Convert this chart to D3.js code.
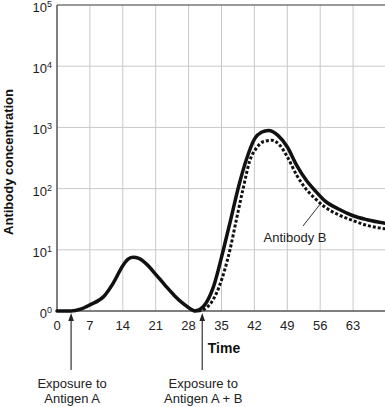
<!DOCTYPE html>
<html>
<head>
<meta charset="utf-8">
<script src="https://cdn.jsdelivr.net/npm/d3@7"></script>
<style>
  body { margin: 0; background: #fff; }
  svg { display: block; font-family: "Liberation Sans", Arial, sans-serif; }
</style>
</head>
<body>
<script>
const width = 385;
const height = 407;
const leftPadding = 57;
const topPadding = 5;
const plotBottom = 311;

// solid curve (antibody A) - time, concentration
const timeA = [0, 3, 5, 7, 10, 12, 14, 15.2, 16.2, 17.4, 19, 21, 23, 25, 27, 28.5, 29.4, 31.1, 33.3, 35.4, 37, 38.6, 40.4, 42.1, 43.5, 45, 47, 49, 51, 53, 55, 57, 60, 63, 66, 70];
const concA = [1, 1, 1.07, 1.26, 1.74, 2.88, 5.5, 7.08, 7.59, 7.24, 5.89, 3.98, 2.63, 1.78, 1.29, 1.07, 1.0, 1.17, 2.5, 10, 32, 105, 316, 661, 832, 891, 741, 479, 240, 138, 91, 63, 46, 36, 31, 27];

// dashed curve (antibody B)
const timeB = [29, 30, 32.2, 34.5, 36.8, 38.2, 39.6, 41, 42.5, 44, 45.7, 47.5, 49, 51, 53, 55, 57, 60, 63, 66, 70];
const concB = [1.03, 1.0, 1.2, 2.5, 10, 32, 100, 282, 468, 589, 617, 501, 331, 166, 98, 68, 50, 37, 30, 25, 22];

const xTicks = [0, 7, 14, 21, 28, 35, 42, 49, 56, 63];
const yTicks = [1, 10, 100, 1000, 10000, 100000];
const yTickBase = ["0", "10", "10", "10", "10", "10"];
const yTickExp = ["0", "1", "2", "3", "4", "5"];

const exposureTimes = [3, 30.9];
const exposureLabels = [["Exposure to", "Antigen A"], ["Exposure to", "Antigen A + B"]];

const xScale = d3.scaleLinear().domain([0, 70]).range([leftPadding, leftPadding + 70 * 4.7]);
const yScale = d3.scaleLog().domain([1, 100000]).range([plotBottom, topPadding]);

const svg = d3.select("body").append("svg")
    .attr("width", width).attr("height", height);

// grid
svg.append("g").selectAll("line").data(xTicks.slice(1).concat([70])).enter().append("line")
    .attr("x1", d => xScale(d)).attr("x2", d => xScale(d))
    .attr("y1", topPadding).attr("y2", plotBottom)
    .attr("stroke", "#c9c9c9").attr("stroke-width", 1);
svg.append("g").selectAll("line").data(yTicks.slice(1, 5)).enter().append("line")
    .attr("x1", leftPadding).attr("x2", width)
    .attr("y1", d => yScale(d)).attr("y2", d => yScale(d))
    .attr("stroke", "#c9c9c9").attr("stroke-width", 1);

// border
svg.append("line").attr("x1", leftPadding).attr("x2", width)
    .attr("y1", topPadding).attr("y2", topPadding)
    .attr("stroke", "#777").attr("stroke-width", 1.5);
svg.append("line").attr("x1", leftPadding).attr("x2", leftPadding)
    .attr("y1", topPadding).attr("y2", plotBottom)
    .attr("stroke", "#555").attr("stroke-width", 1.5);
svg.append("line").attr("x1", leftPadding).attr("x2", width)
    .attr("y1", plotBottom).attr("y2", plotBottom)
    .attr("stroke", "#555").attr("stroke-width", 1.5);

// x tick labels
svg.append("g").selectAll("text").data(xTicks).enter().append("text")
    .attr("x", d => xScale(d)).attr("y", 330)
    .attr("text-anchor", "middle").attr("font-size", 13).attr("fill", "#222")
    .text(d => d);

// y tick labels with superscript
const yLab = svg.append("g").selectAll("text").data(yTicks).enter().append("text")
    .attr("x", 52).attr("y", d => yScale(d) + 7)
    .attr("text-anchor", "end").attr("font-size", 13).attr("fill", "#222");
yLab.append("tspan").text((d, i) => yTickBase[i]);
yLab.append("tspan").attr("font-size", 9).attr("dy", -5).text((d, i) => yTickExp[i]);

// axis titles
svg.append("text").attr("x", 224).attr("y", 353)
    .attr("text-anchor", "middle").attr("font-size", 14).attr("font-weight", "bold")
    .attr("fill", "#111").text("Time");
svg.append("text").attr("transform", "translate(13,162) rotate(-90)")
    .attr("text-anchor", "middle").attr("font-size", 13).attr("font-weight", "bold")
    .attr("fill", "#111").text("Antibody concentration");

// curves
const line = d3.line().curve(d3.curveMonotoneX);
svg.append("path")
    .attr("d", line(timeB.map((t, i) => [xScale(t), yScale(concB[i])])))
    .attr("fill", "none").attr("stroke", "#111").attr("stroke-width", 3)
    .attr("stroke-dasharray", "3,2");
svg.append("path")
    .attr("d", line(timeA.map((t, i) => [xScale(t), yScale(concA[i])])))
    .attr("fill", "none").attr("stroke", "#111").attr("stroke-width", 3.5)
    .attr("stroke-linecap", "round");

// Antibody B label
svg.append("line")
    .attr("x1", 303).attr("y1", 226)
    .attr("x2", xScale(56)).attr("y2", yScale(56))
    .attr("stroke", "#333").attr("stroke-width", 1);
svg.append("text").attr("x", 295).attr("y", 242)
    .attr("text-anchor", "middle").attr("font-size", 13).attr("fill", "#222")
    .text("Antibody B");

// exposure arrows
const arrows = svg.append("g").selectAll("g").data(exposureTimes).enter().append("g");
arrows.append("line")
    .attr("x1", d => xScale(d)).attr("x2", d => xScale(d))
    .attr("y1", 319).attr("y2", 370)
    .attr("stroke", "#333").attr("stroke-width", 1.2);
arrows.append("path")
    .attr("d", d => `M${xScale(d)},313 L${xScale(d) - 2.8},321 L${xScale(d) + 2.8},321 Z`)
    .attr("fill", "#222");
arrows.each(function(d, i) {
    const g = d3.select(this);
    exposureLabels[i].forEach((s, j) => {
        g.append("text").attr("x", xScale(d) + 1).attr("y", 388 + j * 15)
            .attr("text-anchor", "middle").attr("font-size", 13).attr("fill", "#222")
            .text(s);
    });
});
</script>
</body>
</html>
